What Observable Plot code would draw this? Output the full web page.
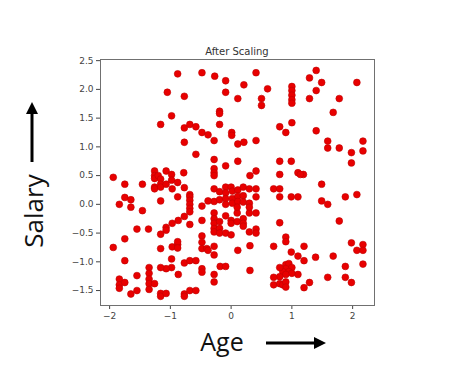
<!DOCTYPE html>
<html>
<head>
<meta charset="utf-8">
<script src="https://cdn.jsdelivr.net/npm/d3@7"></script>
<script src="https://cdn.jsdelivr.net/npm/@observablehq/plot@0.6"></script>
<style>
  html, body { margin: 0; padding: 0; background: #fff; }
  #wrap { position: relative; width: 474px; height: 379px; overflow: hidden; }
  #wrap svg.overlay { position: absolute; left: 0; top: 0; }
</style>
</head>
<body>
<div id="wrap"></div>
<script>
const title = "After Scaling";
const xLabel = "Age";
const yLabel = "Salary";
const xTicks = [-2, -1, 0, 1, 2];
const yTicks = [-1.5, -1.0, -0.5, 0.0, 0.5, 1.0, 1.5, 2.0, 2.5];

// scaled Age (x) and scaled Salary (y)
const age = [
  -0.88,-0.48,-0.27,0.41,-0.09,0.21,-1.05,-0.77,-0.09,0.11,0.6,0.5,0.5,-0.19,-0.19,-0.98,-0.19,-1.16,
  1.0,1.0,1.0,1.0,1.0,1.29,1.4,1.49,1.4,1.29,2.07,1.78,1.68,1.0,0.8,0.9,1.4,
  -0.77,-0.68,-0.58,-0.48,-0.38,-0.77,-0.28,0.01,0.01,0.11,0.21,0.41,-0.58,-0.28,-0.09,0.11,
  -0.28,-0.28,-0.28,0.41,0.31,0.8,0.99,0.8,1.1,1.19,1.14,1.59,1.59,1.78,1.98,1.98,2.17,2.17,
  1.49,1.49,1.59,1.88,2.07,1.78,
  -1.94,-1.75,-1.75,-1.65,-1.84,-1.65,-1.46,-1.46,-1.26,-1.26,-1.26,-1.26,-1.26,-1.2,-1.16,-1.16,-1.16,
  -1.07,-0.98,-0.98,-0.88,-0.78,-1.07,-0.97,-0.77,-1.16,-0.88,
  -0.68,-0.68,-0.68,-0.68,-0.68,-0.68,-0.68,-0.77,-0.87,-0.97,-1.07,-1.07,-1.16,-1.55,-1.36,-1.75,-1.94,
  -1.16,-0.97,-0.88,-0.88,-0.88,-0.98,-0.98,-1.07,-1.16,-1.75,-1.35,-1.35,-1.35,-1.35,-1.35,-1.26,
  -1.55,-1.55,-1.84,-1.84,-1.84,-1.75,-1.65,-1.16,-1.16,-1.07,-0.77,-0.77,-0.68,-0.58,-0.87,-0.77,-0.68,-0.58,
  -0.48,-0.48,-0.48,-0.48,-0.48,-0.4,-0.38,-0.48,-0.48,-0.28,-0.28,-0.28,-0.28,-0.18,-0.09,0.11,0.31,0.31,
  -0.28,-0.28,-0.38,-0.19,-0.19,-0.09,-0.09,-0.09,-0.09,0.0,0.02,0.02,0.02,0.11,0.11,0.11,0.2,0.2,0.2,
  0.3,0.3,0.41,0.41,-0.28,-0.28,-0.28,-0.28,-0.28,-0.19,-0.19,-0.19,-0.09,-0.09,0.0,0.0,0.0,0.1,0.1,
  0.2,0.2,0.2,0.3,0.3,0.41,0.41,0.41,0.1,0.3,
  0.7,0.8,0.8,0.99,1.1,0.8,0.7,0.9,0.9,0.99,1.1,1.2,1.2,1.39,1.68,1.98,2.07,2.17,2.17,2.17,1.88,1.88,
  1.98,1.59,1.29,1.2,1.1,0.9,0.95,1.0,0.9,0.95,0.85,1.0,0.9,0.8,0.8,0.7,0.7,0.8,0.85,0.9,0.9
];
const salary = [
  2.27,2.29,2.23,2.29,2.15,2.08,1.95,1.88,1.95,1.84,2.01,1.84,1.72,1.62,1.58,1.54,1.39,1.39,
  2.05,1.98,1.9,1.82,1.76,2.2,2.33,2.12,1.98,1.84,2.12,1.84,1.6,1.42,1.35,1.25,1.28,
  1.33,1.39,1.35,1.25,1.21,1.08,1.11,1.25,1.2,1.05,1.08,1.11,0.87,0.78,0.67,0.75,
  0.62,0.55,0.5,0.58,0.5,0.75,0.75,0.52,0.55,0.52,0.52,1.1,0.98,0.98,0.9,0.72,1.1,0.93,
  0.35,0.06,0.0,0.13,0.17,-0.29,
  0.47,0.35,0.12,0.08,0.0,-0.05,0.35,-0.11,0.58,0.5,0.45,0.3,0.27,0.5,0.44,0.35,0.3,
  0.58,0.52,0.42,0.38,0.55,0.35,0.27,0.29,0.06,0.13,
  0.17,0.13,0.07,0.0,-0.07,-0.13,-0.35,-0.21,-0.28,-0.33,-0.4,-0.45,-0.52,-0.43,-0.43,-0.6,-0.75,
  -0.77,-0.74,-0.7,-0.65,-0.76,-0.95,-1.1,-1.12,-1.1,-0.98,-1.1,-1.2,-1.3,-1.38,-1.48,-1.38,
  -1.24,-1.5,-1.3,-1.4,-1.46,-1.36,-1.56,-1.55,-1.6,-1.55,-1.56,-1.6,-1.5,-1.5,-1.22,-1.02,-0.98,-0.98,
  -0.03,-0.28,-0.55,-0.66,-0.77,-0.77,-0.8,-1.12,-1.18,-1.22,-1.35,-0.88,-0.73,-1.08,-1.08,-0.8,-0.72,-1.15,
  0.27,0.05,0.06,0.08,0.22,0.3,0.2,0.1,0.0,0.3,0.23,0.1,0.02,0.25,0.14,0.05,0.3,0.15,0.04,
  0.27,0.02,0.27,0.13,-0.15,-0.25,-0.33,-0.42,-0.48,-0.3,-0.42,-0.5,-0.2,-0.5,-0.28,-0.33,-0.53,-0.3,-0.15,
  -0.25,-0.33,-0.38,-0.15,-0.48,-0.15,-0.43,-0.5,-0.05,-0.05,
  0.27,0.27,0.13,0.13,0.13,-0.32,-0.73,-0.57,-0.65,-0.83,-0.9,-0.73,-0.98,-0.92,-0.9,-0.67,-0.8,-0.7,-0.8,-1.04,-1.08,-1.27,
  -1.36,-1.27,-1.36,-1.45,-1.22,-1.05,-1.03,-1.1,-1.12,-1.17,-1.17,-1.2,-1.22,-1.1,-1.26,-1.27,-1.4,-1.38,-1.4,-1.35,-1.44
];

const data = age.map((a, i) => ({age: a, salary: salary[i]}));
const minus = s => s.replace("-", "\u2212");

const W = 474, H = 379;
const chart = Plot.plot({
  width: W, height: H,
  marginLeft: 100, marginRight: 100, marginTop: 59, marginBottom: 74,
  style: {fontFamily: "DejaVu Sans, sans-serif", fontSize: "9px", background: "white", color: "#444", overflow: "visible"},
  x: {domain: [-2.15, 2.36], ticks: xTicks, tickSize: 4, tickPadding: 3, tickFormat: d => minus(d3.format("d")(d)), label: null},
  y: {domain: [-1.76, 2.52], ticks: yTicks, tickSize: 4, tickPadding: 3, tickFormat: d => minus(d3.format(".1f")(d)), label: null},
  marks: [
    Plot.frame({stroke: "#707070", strokeWidth: 1}),
    Plot.dot(data, {x: "age", y: "salary", r: 3.4, fill: "#e80000", stroke: "#c00000", strokeWidth: 0.6})
  ]
});
const wrap = document.getElementById("wrap");
wrap.appendChild(chart);

// annotations overlay: title, axis words and arrows
const svg = d3.select(wrap).append("svg").attr("class", "overlay")
  .attr("width", W).attr("height", H);
svg.append("text").text(title)
  .attr("x", 237).attr("y", 55).attr("text-anchor", "middle")
  .attr("font-family", "DejaVu Sans, sans-serif").attr("font-size", 10).attr("fill", "#333");
svg.append("text").text(xLabel)
  .attr("x", 222).attr("y", 351).attr("text-anchor", "middle")
  .attr("font-family", "Open Sans, sans-serif").attr("font-size", 25).attr("fill", "#111");
svg.append("text").text(yLabel)
  .attr("transform", "translate(43,211) rotate(-90)").attr("text-anchor", "middle")
  .attr("font-family", "Open Sans, sans-serif").attr("font-size", 26).attr("fill", "#111");
// arrows
svg.append("line").attr("x1", 266).attr("y1", 343).attr("x2", 316).attr("y2", 343)
  .attr("stroke", "#000").attr("stroke-width", 3);
svg.append("path").attr("d", "M326,343 L314,337 L314,349 Z").attr("fill", "#000");
svg.append("line").attr("x1", 32).attr("y1", 162).attr("x2", 32).attr("y2", 112)
  .attr("stroke", "#000").attr("stroke-width", 3);
svg.append("path").attr("d", "M32,102 L26,114 L38,114 Z").attr("fill", "#000");
</script>
</body>
</html>
